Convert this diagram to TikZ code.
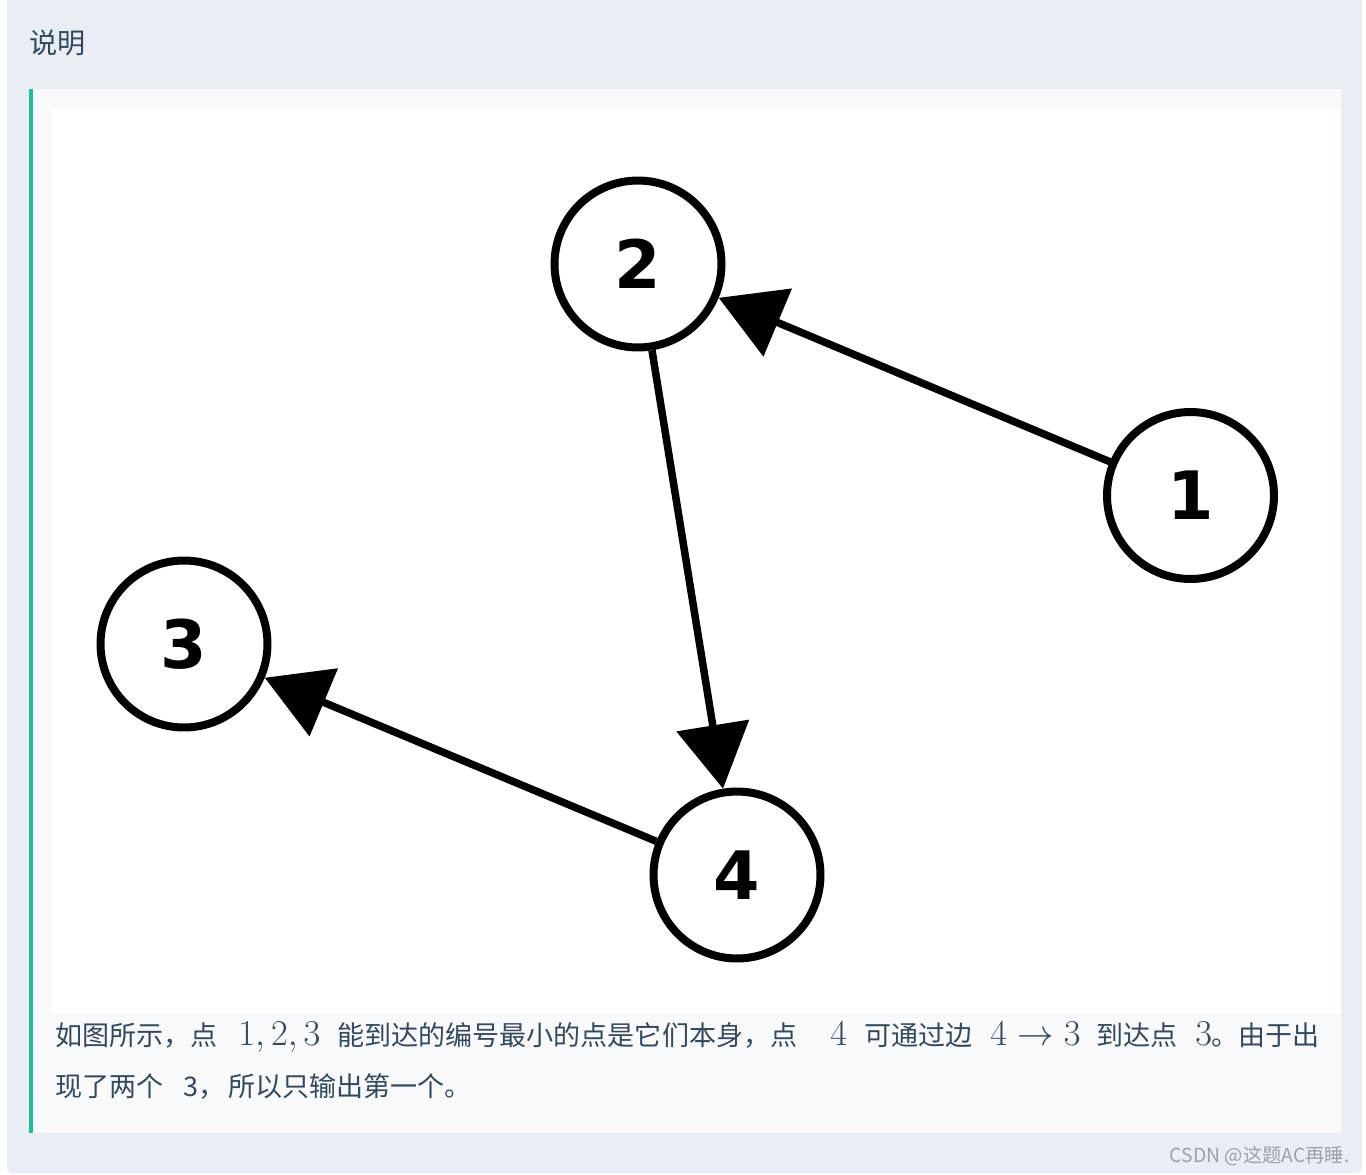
\documentclass[tikz,border=0pt]{standalone}
\usepackage{fontspec}
\newfontfamily\cjk{Noto Sans CJK SC}
\newfontfamily\numfont{DejaVu Sans}
\usetikzlibrary{arrows.meta}
\definecolor{framebg}{HTML}{E9EEF5}
\definecolor{panelbg}{HTML}{F8F9FA}
\definecolor{barcol}{HTML}{1DBF9B}
\definecolor{txtcol}{HTML}{34495E}
\definecolor{markcol}{HTML}{9AA1A9}
\tikzset{
  vertex/.style={circle, draw=black, line width=0.16cm, fill=white, minimum size=3.34cm, inner sep=0pt,
    font=\numfont\bfseries\fontsize{38}{40}\selectfont},
  edge/.style={line width=0.15cm, draw=black, -{Triangle[length=1.28cm,width=1.44cm]}},
  cn/.style={anchor=base west, inner sep=0pt, text=txtcol, font=\cjk\fontsize{15.4}{18}\selectfont},
  mth/.style={anchor=base west, inner sep=0pt, text=txtcol, font=\fontsize{21.5}{24}\selectfont},
}
\begin{document}
\begin{tikzpicture}[x=0.02cm,y=-0.02cm]
\useasboundingbox (0,0) rectangle (1366,1174);
\fill[white] (0,0) rectangle (1366,1174);
\fill[framebg, rounded corners=0.1cm] (7,-20) rectangle (1362,1173);
\node[anchor=base west, inner sep=0pt, text=txtcol, font=\cjk\fontsize{16}{19}\selectfont] (title) at (29,53) {说明};
\fill[panelbg] (33,89) rectangle (1341,1133);
\fill[barcol] (29,89) rectangle (33,1133);
\fill[white] (53,109) rectangle (1341,1013);
% graph
\node[vertex] (n2) at (638,264) {2};
\node[vertex] (n1) at (1190.5,495.5) {1};
\node[vertex] (n3) at (184,644) {3};
\node[vertex] (n4) at (737,875) {4};
\draw[edge] (n1) -- (n2);
\draw[edge] (n2) -- (n4);
\draw[edge] (n4) -- (n3);
% caption line 1
\node[cn] (t1) at (55,1045) {如图所示，点};
\node[mth] (m1) at (238,1045) {$1,2,3$};
\node[cn] (t2) at (337,1045) {能到达的编号最小的点是它们本身，点};
\node[mth] (m2) at (830,1045) {$4$};
\node[cn] (t3) at (864,1045) {可通过边};
\node[mth] (m3) at (990,1045) {$4\to3$};
\node[cn] (t4) at (1096,1045) {到达点};
\node[mth] (m4) at (1195,1045) {$3$};
\node[cn] (t5) at (1211,1045) {。由于出};
% caption line 2
\node[cn] (t6) at (55,1096) {现了两个};
\node[cn] (t7) at (183,1096) {3，};
\node[cn] (t8) at (228,1096) {所以只输出第一个。};
% watermark
\node[anchor=base east, inner sep=0pt, text=markcol, font=\cjk\fontsize{11}{13}\selectfont] (wm) at (1350,1162) {CSDN @这题AC再睡.};
\end{tikzpicture}
\end{document}
